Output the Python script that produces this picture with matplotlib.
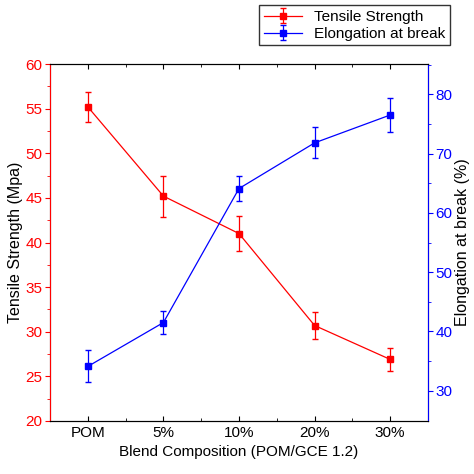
import matplotlib.pyplot as plt

plt.rcParams["font.family"] = ["Liberation Sans", "DejaVu Sans"]

categories = ["POM", "5%", "10%", "20%", "30%"]
tensile = [55.2, 45.2, 41.0, 30.7, 26.9]
tensile_err = [1.7, 2.3, 2.0, 1.5, 1.3]
elong = [34.1, 41.5, 64.1, 71.8, 76.5]
elong_err = [2.7, 2.0, 2.1, 2.6, 2.9]

fig = plt.figure(figsize=(4.74, 4.74), dpi=100)
ax = fig.add_axes([50 / 474, 1 - 421 / 474, 378 / 474, 357 / 474])
ax2 = ax.twinx()
x = range(len(categories))

l1 = ax.errorbar(x, tensile, yerr=tensile_err, color="red", marker="s", ms=5,
                 lw=0.9, capsize=2.5, elinewidth=0.9, label="Tensile Strength")
l2 = ax2.errorbar(x, elong, yerr=elong_err, color="blue", marker="s", ms=5,
                  lw=0.9, capsize=2.5, elinewidth=0.9, label="Elongation at break")

ax.set_xlim(-0.5, 4.5)
ax.set_ylim(20, 60)
ax2.set_ylim(24.9, 85.1)
ax.set_xticks(list(x))
ax.set_xticklabels(categories)
ax.set_xticks([i + 0.5 for i in range(-1, 5)], minor=True)
ax.set_yticks(range(20, 61, 5))
ax.set_yticks([i + 2.5 for i in range(20, 60, 5)], minor=True)
ax2.set_yticks(range(30, 81, 10))
ax2.set_yticks(range(35, 86, 10), minor=True)

ax.tick_params(axis="y", colors="red", labelsize=11, direction="out", pad=2)
ax.tick_params(axis="y", which="minor", colors="red", direction="out")
ax.tick_params(axis="x", labelsize=11, direction="in", top=True, which="both")
ax2.tick_params(axis="y", colors="blue", labelsize=11, direction="out", pad=2)
ax2.tick_params(axis="y", which="minor", colors="blue", direction="out")
ax2.spines["left"].set_color("red")
ax2.spines["right"].set_color("blue")

ax.set_xlabel("Blend Composition (POM/GCE 1.2)", fontsize=11)
ax.set_ylabel("Tensile Strength (Mpa)", fontsize=11.5, labelpad=2)
ax2.set_ylabel("Elongation at break (%)", fontsize=11.5, labelpad=2)

fig.legend(handles=[l1, l2], loc="upper right", bbox_to_anchor=(0.965, 1.005),
           fontsize=11, frameon=True, fancybox=False, edgecolor="black",
           borderpad=0.3, labelspacing=0.2, handlelength=2.5)

fig.savefig("out.png", dpi=100)
